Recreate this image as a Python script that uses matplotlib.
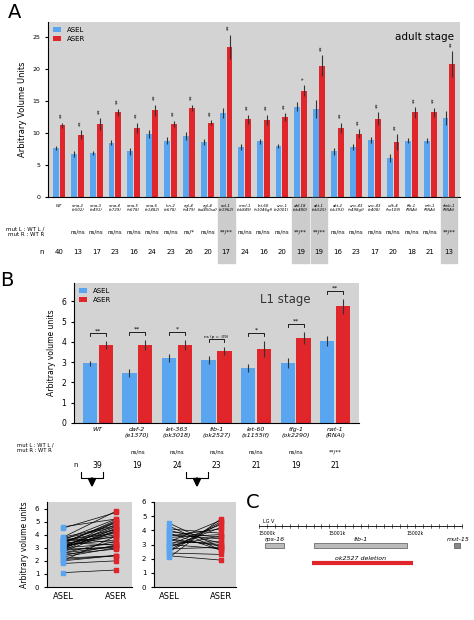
import matplotlib
matplotlib.use("Agg")
import matplotlib.pyplot as plt
import matplotlib.transforms as mtrans
import numpy as np

BLUE = "#5aa5f0"; RED = "#e0252b"; GREY = "#d3d3d3"

# ---------- Panel A data ----------
a_genes = ["WT","sma-2","sma-3","sma-4","sma-5","sma-6","lon-2","egl-4","egl-4","nol-1","mml-1","let-60","unc-1",
           "daf-18","akt-1","akt-2","unc-43","unc-43","cdk-4","tfb-1","nrh-1","rfwb-1"]
a_alleles = ["","(e502)","(e491)","(e729)","(n678)","(e1482)","(e678)","(n479)","(ad450sd)","(e1962)","(ok849)","(n1046gf)",
             "(e2001)","(ok480)","(ok525)","(ok393)","(n498gf)","(e408)","(he109)","(RNAi)","(RNAi)","(RNAi)"]
a_asel = [7.7,6.7,6.8,8.5,7.1,9.8,8.8,9.5,8.6,13.1,7.8,8.7,8.0,14.1,13.8,7.1,7.8,8.9,6.1,8.8,8.8,12.3]
a_aser = [11.2,9.7,11.4,13.2,10.8,13.5,11.4,13.9,11.6,23.4,12.1,12.0,12.5,16.6,20.5,10.8,9.9,12.2,8.6,13.2,13.2,20.7]
a_asel_err = [0.3,0.4,0.3,0.4,0.5,0.6,0.5,0.6,0.5,0.8,0.4,0.4,0.3,0.7,1.4,0.5,0.5,0.5,0.6,0.4,0.4,1.1]
a_aser_err = [0.4,0.7,0.9,0.6,0.8,0.9,0.5,0.5,0.4,1.9,0.7,0.8,0.6,0.9,1.6,0.8,0.7,1.0,1.2,0.8,0.7,2.0]
a_sig = ["**"]*13 + ["*"] + ["**"]*8
a_mut = ["","ns/ns","ns/ns","ns/ns","ns/ns","ns/ns","ns/ns","ns/*","ns/ns","**/**","ns/ns","ns/ns","ns/ns",
         "**/**","**/**","ns/ns","ns/ns","ns/ns","ns/ns","ns/ns","ns/ns","**/**"]
a_n = [40,13,17,23,16,24,23,26,20,17,24,16,20,19,19,16,23,17,20,18,21,13]
a_shade = [9,13,14,21]

# ---------- Panel B data ----------
b_genes = ["WT","daf-2","let-363","fib-1","let-60","tfg-1","nat-1"]
b_alleles = ["","(e1370)","(ok3018)","(ok2527)","(s1155lf)","(ok2290)","(RNAi)"]
b_asel = [2.95,2.45,3.2,3.1,2.7,2.95,4.05]
b_aser = [3.85,3.85,3.85,3.55,3.65,4.2,5.75]
b_asel_err = [0.12,0.2,0.2,0.2,0.2,0.25,0.25]
b_aser_err = [0.18,0.25,0.25,0.18,0.4,0.3,0.38]
b_sig = ["**","**","*","ns (p = .09)","*","**","**"]
b_mut = ["","ns/ns","ns/ns","ns/ns","ns/ns","ns/ns","**/**"]
b_n = [39,19,24,23,21,19,21]

# ---------- paired data ----------
wt_L = [1.1,1.8,2.0,2.1,2.3,2.4,2.5,2.6,2.7,2.8,2.8,2.9,2.9,3.0,3.0,3.0,3.1,3.1,3.2,3.2,3.3,3.3,3.4,3.4,3.5,
        3.5,3.6,3.6,3.7,3.7,3.8,3.8,2.2,2.6,3.0,3.4,2.0,4.5,4.6]
wt_R = [1.3,2.0,2.4,2.4,3.0,3.2,2.9,3.5,4.3,3.1,4.5,3.0,4.8,3.3,4.2,5.0,3.9,4.6,3.6,4.4,5.1,4.0,3.2,4.9,4.4,
        3.8,5.2,4.1,4.6,3.4,4.7,5.8,2.4,3.1,4.3,5.0,3.9,5.7,5.2]
fib_L = [2.1,2.2,2.4,2.6,2.7,2.8,2.9,3.0,3.0,3.1,3.2,3.3,3.4,3.5,3.6,3.7,3.8,3.9,4.0,4.1,4.3,4.5,2.5]
fib_R = [4.8,1.9,2.3,4.6,2.8,4.2,3.6,4.4,2.7,3.2,4.7,3.0,2.9,3.7,4.1,3.4,2.6,3.5,3.1,3.8,2.6,2.8,4.5]

fig = plt.figure(figsize=(4.74, 6.2), dpi=100)

def sigbracket(ax, x1, x2, y, txt, h, fs):
    ax.plot([x1, x1, x2, x2], [y, y + h, y + h, y], color="k", lw=0.6)
    ax.text((x1 + x2) / 2, y + h, txt, ha="center", va="bottom", fontsize=fs)

# ---------- Panel A ----------
axA = fig.add_axes([48/474, 1-197/620, 412/474, 175/620])
axA.set_facecolor(GREY)
x = np.arange(len(a_genes)); w = 0.32
axA.bar(x - w/2 - 0.02, a_asel, w, color=BLUE, yerr=a_asel_err, error_kw=dict(lw=0.8, ecolor="#333"), label="ASEL")
axA.bar(x + w/2 + 0.02, a_aser, w, color=RED, yerr=a_aser_err, error_kw=dict(lw=0.8, ecolor="#333"), label="ASER")
for i in x:
    top = a_aser[i] + a_aser_err[i] + 0.7
    axA.text(i + 0.17, top, a_sig[i], rotation=90, fontsize=4, ha="center", va="bottom")
axA.set_xlim(-0.6, len(a_genes) - 0.4)
axA.set_ylim(0, 27.3)
axA.set_yticks([0, 5, 10, 15, 20, 25])
axA.tick_params(axis="y", labelsize=4.5, length=2)
axA.set_xticks([])
for s in ["top", "right"]:
    axA.spines[s].set_visible(False)
axA.set_ylabel("Arbitrary Volume Units", fontsize=6)
axA.text(0.985, 0.94, "adult stage", transform=axA.transAxes, ha="right", va="top", fontsize=7.5)
axA.legend(loc="upper left", fontsize=5, frameon=False, handlelength=1.2, borderaxespad=0.3)
trA = mtrans.blended_transform_factory(axA.transData, fig.transFigure)
for i in a_shade:
    fig.patches.append(plt.Rectangle((i - 0.45, 1-263/620), 0.9, 65/620, transform=trA, color="#cccccc", zorder=0))
for i in x:
    fig.text(i, 1-204/620, a_genes[i] + ("\n" + a_alleles[i] if a_alleles[i] else ""), transform=trA,
             ha="center", va="top", fontsize=2.8, style="italic", linespacing=1.1)
    fig.text(i, 1-232/620, a_mut[i], transform=trA, ha="center", va="center", fontsize=4)
    fig.text(i, 1-252/620, str(a_n[i]), transform=trA, ha="center", va="center", fontsize=5)
fig.text(44/474, 1-232/620, "mut L : WT L /\nmut R : WT R", ha="right", va="center", fontsize=4)
fig.text(44/474, 1-252/620, "n", ha="right", va="center", fontsize=5)
fig.text(8/474, 1-12/620, "A", fontsize=14, va="center")

# ---------- Panel B ----------
axB = fig.add_axes([74/474, 1-423/620, 285/474, 140/620])
axB.set_facecolor(GREY)
xb = np.arange(len(b_genes)); wb = 0.36
axB.bar(xb - wb/2 - 0.02, b_asel, wb, color=BLUE, yerr=b_asel_err, error_kw=dict(lw=0.8, ecolor="#333"), label="ASEL")
axB.bar(xb + wb/2 + 0.02, b_aser, wb, color=RED, yerr=b_aser_err, error_kw=dict(lw=0.8, ecolor="#333"), label="ASER")
for i in xb:
    y0 = max(b_asel[i] + b_asel_err[i], b_aser[i] + b_aser_err[i]) + 0.25
    sigbracket(axB, i - 0.2, i + 0.2, y0, b_sig[i], 0.15, 4.5 if b_sig[i].startswith("*") else 3)
axB.set_xlim(-0.6, len(b_genes) - 0.4)
axB.set_ylim(0, 6.9)
axB.set_yticks(range(7))
axB.tick_params(axis="y", labelsize=5.5, length=2)
axB.set_xticks(xb)
axB.set_xticklabels([g + ("\n" + a if a else "") for g, a in zip(b_genes, b_alleles)], fontsize=4.5, style="italic")
axB.tick_params(axis="x", length=0, pad=3)
for s in ["top", "right"]:
    axB.spines[s].set_visible(False)
axB.set_ylabel("Arbitrary volume units", fontsize=5.5)
axB.text(0.83, 0.93, "L1 stage", transform=axB.transAxes, ha="right", va="top", fontsize=8.5, color="#333")
axB.legend(loc="upper left", fontsize=5, frameon=False, handlelength=1.2, borderaxespad=0.3)
trB = mtrans.blended_transform_factory(axB.transData, fig.transFigure)
for i in xb:
    fig.text(i, 1-452/620, b_mut[i], transform=trB, ha="center", va="center", fontsize=4)
    fig.text(i, 1-465/620, str(b_n[i]), transform=trB, ha="center", va="center", fontsize=5.5)
fig.text(17/474, 1-448/620, "mut L : WT L /\nmut R : WT R", ha="left", va="center", fontsize=3.8)
fig.text(78/474, 1-465/620, "n", ha="right", va="center", fontsize=5)
fig.text(0, 1-281/620, "B", fontsize=14, va="center")

# arrows under WT and fib-1
for xc in [92/474, 197/474]:
    fig.lines.append(plt.Line2D([xc-0.023, xc-0.023, xc+0.023, xc+0.023],
                                [1-472/620, 1-478/620, 1-478/620, 1-472/620], color="k", lw=0.8, transform=fig.transFigure))
    fig.patches.append(matplotlib.patches.FancyArrow(xc, 1-478/620, 0, -8/620, width=0.0015, head_width=0.015,
                                                     head_length=0.012, color="k", transform=fig.transFigure, length_includes_head=True))

# ---------- paired panels ----------
def paired(rect, L, R, ymax, ylabel):
    ax = fig.add_axes(rect)
    ax.set_facecolor(GREY)
    for l, r in zip(L, R):
        ax.plot([0, 1], [l, r], color="k", lw=0.5)
    ax.scatter(np.zeros(len(L)), L, s=6, color=BLUE, zorder=3, marker="s")
    ax.scatter(np.ones(len(R)), R, s=6, color=RED, zorder=3, marker="s")
    ax.set_xlim(-0.3, 1.3); ax.set_ylim(0, ymax)
    ax.set_xticks([0, 1]); ax.set_xticklabels(["ASEL", "ASER"], fontsize=6)
    ax.tick_params(axis="x", length=0)
    ax.tick_params(axis="y", labelsize=5, length=2)
    ax.set_yticks(range(int(ymax) + 1))
    for s in ["top", "right"]:
        ax.spines[s].set_visible(False)
    if ylabel:
        ax.set_ylabel("Arbitrary volume units", fontsize=5.5)
paired([47/474, 1-587/620, 85/474, 85/620], wt_L, wt_R, 6.5, True)
paired([154/474, 1-587/620, 82/474, 85/620], fib_L, fib_R, 6.0, False)

# ---------- Panel C ----------
fig.text(246/474, 1-502/620, "C", fontsize=14, va="center")
axC = fig.add_axes([255/474, 1-570/620, 215/474, 55/620])
axC.set_xlim(14999.95, 15002.7); axC.set_ylim(0, 10); axC.axis("off")
axC.plot([15000.0, 15002.6], [8, 8], color="k", lw=0.6)
for t in np.arange(15000.0, 15002.61, 0.1):
    axC.plot([t, t], [7.7, 8.3], color="k", lw=0.4)
axC.text(15000.05, 8.6, "LG V", fontsize=3.5)
for t, lab in [(15000.0, "15000k"), (15001.0, "15001k"), (15002.0, "15002k")]:
    axC.text(t, 7.1, lab, fontsize=3.3, ha="left" if t == 15000.0 else "center", va="top")
genes = [(15000.08, 15000.32, "rps-16"), (15000.7, 15001.9, "fib-1")]
for s, e, nm in genes:
    axC.add_patch(plt.Rectangle((s, 4.0), e - s, 0.9, facecolor="#bbbbbb", edgecolor="#333", lw=0.4))
    axC.text((s + e) / 2, 5.3, nm, fontsize=4.5, style="italic", ha="center")
axC.add_patch(plt.Rectangle((15002.5, 4.0), 0.07, 0.9, facecolor="#888", edgecolor="#333", lw=0.4))
axC.text(15002.55, 5.3, "mut-15", fontsize=4.5, style="italic", ha="center")
axC.plot([15000.68, 15001.97], [1.2, 1.2], color=RED, lw=3, solid_capstyle="butt")
axC.text(15001.3, 1.9, "ok2527 deletion", fontsize=4.5, style="italic", ha="center")

fig.savefig("out.png", dpi=100)
